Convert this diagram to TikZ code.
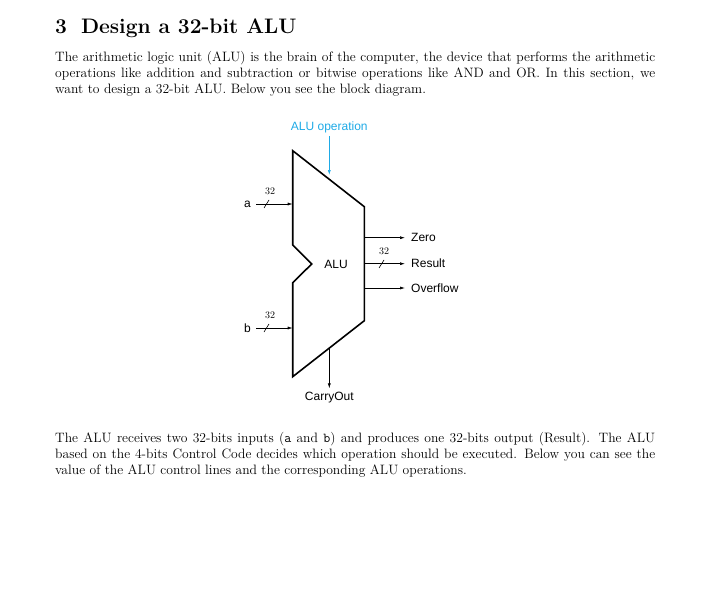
\documentclass[tikz,border=0pt]{standalone}
\usepackage{fontspec}
\newfontfamily\dg{Liberation Sans}
\usetikzlibrary{arrows.meta}
\definecolor{opblue}{RGB}{30,170,230}
\begin{document}
\begin{tikzpicture}[x=1pt,y=-1pt,
  body/.style={anchor=north west,inner sep=0,text width=600pt,align=justify,font=\fontsize{13.6}{16}\selectfont},
  lab/.style={font=\dg\fontsize{12}{14}\selectfont,inner sep=0},
  num/.style={font=\fontsize{10}{11}\selectfont,inner sep=0},
  sig/.style={line width=0.6pt,-{Latex[length=5pt,width=3pt]}},
  aluline/.style={line width=1.6pt,line join=miter}]
\useasboundingbox (0,0) rectangle (719,591);
\node[anchor=base west,inner sep=0,font=\bfseries\fontsize{21}{24}\selectfont] (title) at (55,34) {3\hspace{14pt}Design a 32-bit ALU};
\node[body] (p1) at (55,51) {The arithmetic logic unit (ALU) is the brain of the computer, the device that performs the arithmetic operations like addition and subtraction or bitwise operations like AND and OR. In this section, we want to design a 32-bit ALU. Below you see the block diagram.};
\node[body] (p2) at (55,432) {The ALU receives two 32-bits inputs (\texttt{a} and \texttt{b}) and produces one 32-bits output (Result). The ALU based on the 4-bits Control Code decides which operation should be executed. Below you can see the value of the ALU control lines and the corresponding ALU operations.};
% ALU shape
\draw[aluline] (292.7,150.7) -- (364.3,206.7) -- (364.3,320.7) -- (292.7,376.7) -- (292.7,282.7) -- (311.7,264) -- (292.7,245) -- cycle;
\node[lab] (alu) at (336,264) {ALU};
\coordinate (opin) at (329.3,175);
\coordinate (coout) at (329.3,348);
\node[lab,text=opblue] (op) at (329.3,127) {ALU operation};
\draw[sig,opblue] (op.south) ++(0,3) -- (opin);
% inputs
\node[lab,anchor=east] (a) at (251,204) {a};
\coordinate (ain) at (292.7,204);
\draw[sig] (a.east) ++(5,0) -- (ain);
\draw[line width=0.6pt] (264,208) -- (269,200);
\node[num] (a32) at (270,191) {32};
\node[lab,anchor=east] (b) at (251,328) {b};
\coordinate (bin) at (292.7,328);
\draw[sig] (b.east) ++(5,0) -- (bin);
\draw[line width=0.6pt] (264,332) -- (269,324);
\node[num] (b32) at (270,315) {32};
% outputs
\node[lab,anchor=west] (zero) at (411,237.7) {Zero};
\node[lab,anchor=west] (res) at (411,263.7) {Result};
\node[lab,anchor=west] (ovf) at (411,288) {Overflow};
\draw[sig] (364.3,237.7) -- ([xshift=-6pt]zero.west);
\draw[sig] (364.3,263.7) -- ([xshift=-6pt]res.west);
\draw[sig] (364.3,288) -- ([xshift=-6pt]ovf.west);
\draw[line width=0.6pt] (379,268) -- (384,260);
\node[num] (r32) at (384,251) {32};
\node[lab] (co) at (329.3,398) {CarryOut};
\draw[sig] (coout) -- ([yshift=4pt]co.north);
\end{tikzpicture}
\end{document}
